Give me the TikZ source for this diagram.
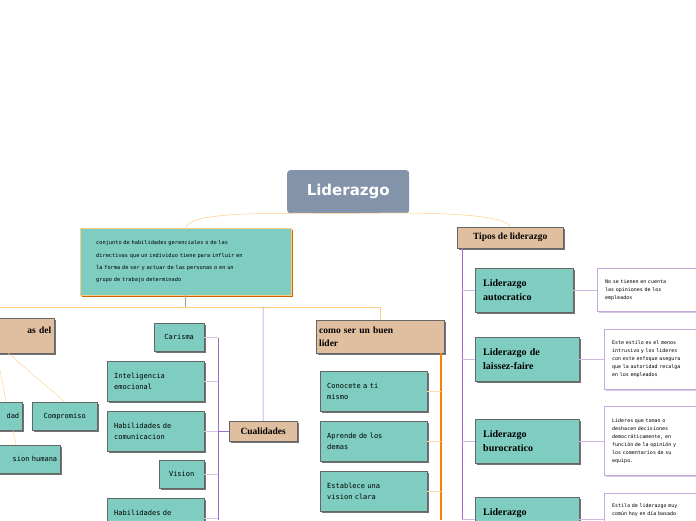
\documentclass[tikz,border=0pt]{standalone}
\usepackage{fontspec}
\setmainfont{Liberation Serif}
\newfontfamily\monof{DejaVu Sans Mono}
\newfontfamily\titlef{DejaVu Sans}
\usetikzlibrary{positioning}
\definecolor{teal}{HTML}{7ECDC0}
\definecolor{tan}{HTML}{E0BFA0}
\definecolor{ttl}{HTML}{8293AA}
\definecolor{org}{HTML}{FFCC88}
\definecolor{purp}{HTML}{9B6FC4}
\begin{document}
\begin{tikzpicture}[x=1pt,y=-1pt,
 shad/.style={preaction={fill=black!55,transform canvas={shift={(1.5pt,-1.5pt)}}}},
 tbox/.style={draw=black!60,fill=teal,shad,anchor=north west,inner xsep=7pt,inner ysep=0pt,align=left,font=\monof\fontsize{7}{11}\selectfont},
 hbox/.style={draw=black!60,fill=tan,shad,anchor=north west,inner xsep=3pt,inner ysep=0pt,align=left,font=\bfseries\fontsize{9.5}{13}\selectfont},
 lbox/.style={draw=black!60,fill=teal,shad,anchor=north west,inner xsep=8pt,inner ysep=0pt,align=left,font=\bfseries\fontsize{10}{14}\selectfont},
 wbox/.style={draw=purp!60,fill=white,preaction={fill=purp!40,transform canvas={shift={(1.5pt,-1.5pt)}}},anchor=north west,inner xsep=8pt,inner ysep=0pt,align=left,font=\monof\fontsize{5}{8}\selectfont},
 oline/.style={draw=org,line width=0.8pt},
 pline/.style={draw=purp,line width=0.6pt}]
\useasboundingbox (0,0) rectangle (696,520);
\clip (0,0) rectangle (696,520);
% title
\node[fill=ttl,rounded corners=3pt,minimum width=122pt,minimum height=43pt,anchor=north west,text=white,font=\titlef\bfseries\fontsize{15}{18}\selectfont] (T) at (287,170) {Liderazgo};
% description
\node[draw=org,fill=teal,preaction={fill=orange!80!black,transform canvas={shift={(2pt,-2pt)}}},anchor=north west,minimum width=211pt,minimum height=67pt,inner xsep=16pt,inner ysep=0pt,text width=179pt,align=left,font=\monof\fontsize{5.3}{12.3}\selectfont] (D) at (80,228) {conjunto de habilidades gerenciales o de las\\directivas que un individuo tiene para influir en\\la forma de ser y actuar de las personas o en un\\grupo de trabajo determinado};
\node[hbox,minimum width=106pt,minimum height=21pt] (Tp) at (457,227) {Tipos de liderazgo};
\draw[oline,line width=0.5pt] (T.south) .. controls (260,213) and (190,212) .. (D.north);
\draw[oline,line width=0.5pt] (T.south) .. controls (380,213) and (505,210) .. (Tp.north);
% left branch
\node[hbox,minimum width=64pt,minimum height=35pt,text width=58pt,align=right] (Ca) at (-10,318) {as del\\[-2pt]\mbox{}};
\node[tbox,minimum width=32pt,minimum height=28pt,inner xsep=3pt,text width=26pt,align=right] (Cb) at (-10,402) {dad};
\node[tbox,minimum width=65pt,minimum height=28pt,align=center,inner xsep=0pt] (Cc) at (32,402) {Compromiso};
\node[tbox,minimum width=70pt,minimum height=28pt,inner xsep=3pt,text width=64pt,align=right] (Cd) at (-10,445) {sion humana};
\draw[oline,line width=0.4pt] (8,353) -- (Cc.north);
\draw[oline,line width=0.4pt] (0,370) -- (6,402);
\draw[oline,line width=0.4pt] (13,430) -- (16,445);
% connectors from description
\coordinate (J) at (263,307);
\draw[draw=tan!80!black,line width=0.8pt] (D.south) |- (J);
\coordinate (L) at (0,307);
\node[hbox,minimum width=128pt,minimum height=33pt,text width=122pt] (B) at (316,320) {como ser un buen\\lider};
\draw[oline] (L) -| ([xshift=-0pt]B.north);
% cualidades
\node[hbox,minimum width=68pt,minimum height=20pt,align=center,inner xsep=0pt] (Q) at (229,421) {Cualidades};
\draw[pline,line width=0.5pt] (J) -- (Q.north);
\node[tbox,minimum width=50pt,minimum height=28pt,align=center,inner xsep=0pt] (q1) at (154,323) {Carisma};
\node[tbox,minimum width=97pt,minimum height=40pt,text width=83pt] (q2) at (107,361) {Inteligencia\\emocional};
\node[tbox,minimum width=97pt,minimum height=40pt,text width=83pt] (q3) at (107,411) {Habilidades de\\comunicacion};
\node[tbox,minimum width=45pt,minimum height=28pt,align=center,inner xsep=0pt] (q4) at (159,460) {Vision};
\node[tbox,minimum width=97pt,minimum height=40pt,text width=83pt] (q5) at (107,498) {Habilidades de\\\mbox{}};
\coordinate (QV1) at (218,338); \coordinate (QV2) at (218,520);
\draw[pline] (Q.west) -- (Q.west-|QV1);
\draw[pline,line width=0.5pt] (QV1) -- (QV2);
\foreach \n in {q1,q2,q3,q4,q5} \draw[pline,draw=purp!40] (\n.east) -- (\n.east-|QV1);
% como ser
\coordinate (BV1) at (441,353); \coordinate (BV2) at (441,520);
\draw[draw=orange,line width=1.2pt] (BV1) -- (BV2);
\node[tbox,minimum width=107pt,minimum height=40pt,text width=93pt] (b1) at (320,371) {Conocete a ti\\mismo};
\node[tbox,minimum width=107pt,minimum height=40pt,text width=93pt] (b2) at (320,421) {Aprende de los\\demas};
\node[tbox,minimum width=107pt,minimum height=40pt,text width=93pt] (b3) at (320,471) {Establece una\\vision clara};
\foreach \n in {b1,b2,b3} \draw[oline,draw=org!70] (\n.east) -- (\n.east-|BV1);
% tipos
\coordinate (TV) at (462,520);
\draw[pline,line width=0.8pt] (Tp.south west-|TV) -- (TV);
\node[lbox,minimum width=98pt,minimum height=44pt,text width=82pt] (t1) at (475,268) {Liderazgo\\autocratico};
\node[lbox,minimum width=104pt,minimum height=44pt,text width=88pt] (t2) at (475,337) {Liderazgo de\\laissez-faire};
\node[lbox,minimum width=104pt,minimum height=44pt,text width=88pt] (t3) at (475,419) {Liderazgo\\burocratico};
\node[lbox,minimum width=104pt,minimum height=44pt,text width=88pt] (t4) at (475,497) {Liderazgo\\\mbox{}};
\node[wbox,minimum width=105pt,minimum height=43pt,text width=89pt] (w1) at (597,268) {No se tienen en cuenta\\las opiniones de los\\empleados};
\node[wbox,minimum width=98pt,minimum height=60pt,text width=82pt] (w2) at (604,329) {Este estilo es el menos\\intrusivo y los lideres\\con este enfoque asegura\\que la autoridad recalga\\en los empleados};
\node[wbox,minimum width=98pt,minimum height=69pt,text width=82pt] (w3) at (604,406) {Lideres que toman o\\deshacen decisiones\\democráticamente, en\\función de la opinión y\\los comentarios de su\\equipo.};
\node[wbox,minimum width=98pt,minimum height=40pt,text width=82pt] (w4) at (604,493) {Estilo de liderazgo muy\\común hoy en día basado\\\mbox{}};
\foreach \a/\b in {t1/w1,t2/w2,t3/w3,t4/w4} {\draw[pline,draw=purp!50] (\a.east) -- (\b.west|-\a.east);
 \draw[pline,draw=purp!50] (\a.west-|TV) -- (\a.west);}
\end{tikzpicture}
\end{document}
